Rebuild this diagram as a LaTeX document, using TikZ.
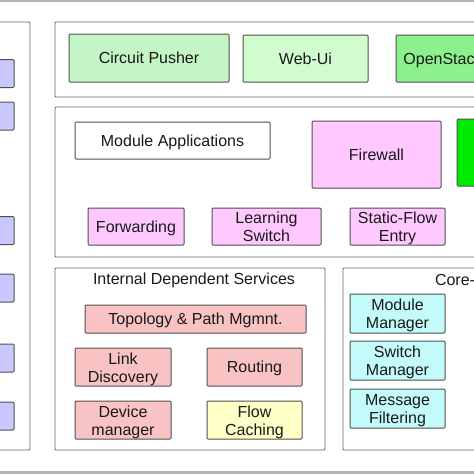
\documentclass[tikz,border=0pt]{standalone}
\usepackage{fontspec}
\setmainfont{Liberation Sans}
\definecolor{boxgray}{RGB}{80,80,80}
\definecolor{panelgray}{RGB}{100,100,100}
\definecolor{bandgray}{RGB}{180,180,180}
\definecolor{myblue}{RGB}{200,200,255}
\definecolor{mygreen}{RGB}{196,245,196}
\definecolor{lightgreen}{RGB}{208,252,208}
\definecolor{midgreen}{RGB}{140,240,140}
\definecolor{brightgreen}{RGB}{0,235,0}
\definecolor{mypink}{RGB}{255,200,255}
\definecolor{mysalmon}{RGB}{250,195,195}
\definecolor{myyellow}{RGB}{255,255,200}
\definecolor{mycyan}{RGB}{195,250,250}
\tikzstyle{panel} = [draw=panelgray, fill=white, line width=0.8,
    inner sep=0, outer sep=0, rounded corners=1]
\tikzstyle{box} = [draw=boxgray, line width=1, inner sep=0, outer sep=0,
    rounded corners=1, font=\fontsize{16}{18}\selectfont, align=center,
    text=black!90, text height=11.5, text depth=0]
\tikzstyle{twoline} = [text height=25, text depth=11]
\tikzstyle{title} = [inner sep=0, outer sep=0,
    font=\fontsize{16}{18}\selectfont, text=black!90]

\begin{document}
\begin{tikzpicture}[x=1pt, y=-1pt]
\useasboundingbox (0,0) rectangle (474,474);
\clip (0,0) rectangle (474,474);
\fill[white] (0,0) rectangle (474,474);
\fill[bandgray] (0,0) rectangle (474,2);
\fill[bandgray] (0,471) rectangle (474,474);

%%% panels
\node[panel, minimum width=50, minimum height=428] (left) at (5,236) {};
\node[panel, minimum width=460, minimum height=75] (apps) at (285,59.5) {};
\node[panel, minimum width=460, minimum height=150] (modules) at (285,182) {};
\node[panel, minimum width=270, minimum height=182] (internal) at (190,359) {};
\node[panel, minimum width=170, minimum height=182] (core) at (428,359) {};

%%% left column
\foreach \y [count=\i] in {73.5, 116, 230.5, 288, 358, 416}
    \node[box, fill=myblue, minimum width=34, minimum height=28] (side\i) at (-3,\y) {};

%%% applications
\node[box, fill=mygreen, minimum width=160, minimum height=48] (circuit) at (149,58) {Circuit Pusher};
\node[box, fill=lightgreen, minimum width=125, minimum height=47] (webui) at (305.5,58.5) {Web-Ui};
\node[box, fill=midgreen, minimum width=94, minimum height=47] (openstack) at (443,58.5) {OpenStack};

%%% module applications
\node[box, fill=white, minimum width=195, minimum height=37] (modapps) at (172.5,140.5) {Module Applications};
\node[box, fill=mypink, minimum width=129, minimum height=67] (firewall) at (376.5,154.5) {Firewall};
\node[box, fill=brightgreen, minimum width=63, minimum height=67] (vnf) at (488.5,152.5) {};
\node[box, fill=mypink, minimum width=96, minimum height=37] (forwarding) at (136,226.5) {Forwarding};
\node[box, twoline, fill=mypink, minimum width=109, minimum height=37] (learning) at (266.5,226.5) {\begin{tabular}{c} Learning \\ Switch \end{tabular}};
\node[box, twoline, fill=mypink, minimum width=95, minimum height=37] (staticflow) at (397.5,226.5) {\begin{tabular}{c} Static-Flow \\ Entry \end{tabular}};

%%% internal services
\node[title] (internaltitle) at (194,280) {Internal Dependent Services};
\node[box, fill=mysalmon, minimum width=221, minimum height=28] (topology) at (195.5,319) {Topology \& Path Mgmnt.};
\node[box, twoline, fill=mysalmon, minimum width=96, minimum height=38] (link) at (123,367) {\begin{tabular}{c} Link \\ Discovery \end{tabular}};
\node[box, fill=mysalmon, minimum width=95, minimum height=38] (routing) at (254.5,367) {Routing};
\node[box, twoline, fill=mysalmon, minimum width=96, minimum height=38] (device) at (123,420) {\begin{tabular}{c} Device \\ manager \end{tabular}};
\node[box, twoline, fill=myyellow, minimum width=95, minimum height=38] (flowcache) at (254.5,420) {\begin{tabular}{c} Flow \\ Caching \end{tabular}};

%%% core
\node[title, anchor=west] (coretitle) at (435,280) {Core-};
\node[box, twoline, fill=mycyan, minimum width=95, minimum height=39] (modmgr) at (397.5,313.5) {\begin{tabular}{c} Module \\ Manager \end{tabular}};
\node[box, twoline, fill=mycyan, minimum width=95, minimum height=39] (swmgr) at (397.5,360.5) {\begin{tabular}{c} Switch \\ Manager \end{tabular}};
\node[box, twoline, fill=mycyan, minimum width=95, minimum height=39] (msgfilter) at (397.5,408.5) {\begin{tabular}{c} Message \\ Filtering \end{tabular}};

\end{tikzpicture}
\end{document}
